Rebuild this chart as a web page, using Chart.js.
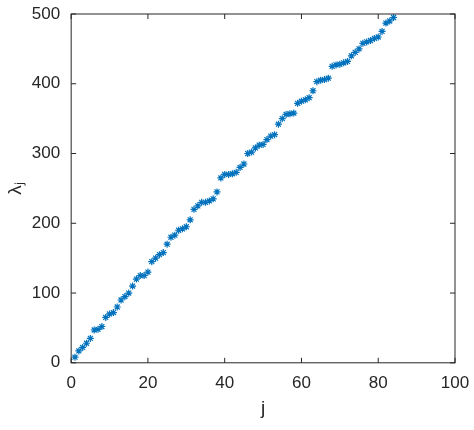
<!DOCTYPE html>
<html>
<head>
<meta charset="utf-8">
<script src="https://cdn.jsdelivr.net/npm/chart.js@4"></script>
<style>
  body { margin: 0; background: #fff; }
  #wrap { width: 474px; height: 430px; }
</style>
</head>
<body>
<div id="wrap"><canvas id="c"></canvas></div>
<script>
const lambdas = [8, 17, 22, 28, 35, 47, 48, 52, 65, 70,
  72, 80, 90, 95, 100, 110, 120, 125, 125, 130,
  145, 150, 155, 158, 170, 180, 183, 190, 192, 195,
  205, 220, 225, 230, 230, 232, 235, 245, 265, 270,
  270, 271, 273, 280, 285, 300, 302, 308, 312, 313,
  320, 325, 327, 342, 350, 356, 357, 358, 372, 375,
  377, 380, 390, 403, 405, 406, 408, 425, 427, 428,
  430, 432, 440, 445, 450, 458, 460, 462, 465, 467,
  475, 487, 490, 495];
const xTicks = [0, 20, 40, 60, 80, 100];
const yTicks = [0, 100, 200, 300, 400, 500];

const points = lambdas.map((v, i) => ({ x: i + 1, y: v }));

// caja y marcas hacia dentro, al estilo MATLAB
const boxPlugin = {
    id: 'box',
    afterDraw(chart) {
        const { ctx, chartArea: a, scales } = chart;
        ctx.save();
        ctx.strokeStyle = '#262626';
        ctx.lineWidth = 1;
        ctx.strokeRect(a.left, a.top, a.right - a.left, a.bottom - a.top);
        ctx.beginPath();
        xTicks.forEach(t => {
            const px = scales.x.getPixelForValue(t);
            ctx.moveTo(px, a.bottom); ctx.lineTo(px, a.bottom - 5);
            ctx.moveTo(px, a.top); ctx.lineTo(px, a.top + 5);
        });
        yTicks.forEach(t => {
            const py = scales.y.getPixelForValue(t);
            ctx.moveTo(a.left, py); ctx.lineTo(a.left + 5, py);
            ctx.moveTo(a.right, py); ctx.lineTo(a.right - 5, py);
        });
        ctx.stroke();
        ctx.restore();
    }
};

const tickFont = { family: 'Liberation Sans Narrow, Liberation Sans', size: 17 };

new Chart(document.getElementById('c'), {
    type: 'scatter',
    data: {
        datasets: [{
            data: points,
            pointStyle: 'star',
            radius: 3.5,
            borderColor: '#0072BD',
            backgroundColor: '#0072BD',
            borderWidth: 1.2
        }]
    },
    options: {
        responsive: true,
        maintainAspectRatio: false,
        animation: false,
        layout: { padding: { top: 14, right: 19, left: 0, bottom: 6 } },
        plugins: { legend: { display: false }, tooltip: { enabled: false } },
        scales: {
            x: {
                min: 0, max: 100,
                afterBuildTicks: s => { s.ticks = xTicks.map(v => ({ value: v })); },
                grid: { display: false },
                border: { display: false },
                ticks: { color: '#262626', font: tickFont, maxRotation: 0, padding: 2 },
                title: { display: true, text: 'j', color: '#262626', font: { family: 'Liberation Sans', size: 19 }, padding: { top: 2 } }
            },
            y: {
                min: 0, max: 500,
                afterBuildTicks: s => { s.ticks = yTicks.map(v => ({ value: v })); },
                grid: { display: false },
                border: { display: false },
                ticks: { color: '#262626', font: tickFont, padding: 3 },
                title: { display: true, text: 'λⱼ', color: '#262626', font: { family: 'Liberation Sans', size: 19 }, padding: { bottom: 2 } }
            }
        }
    },
    plugins: [boxPlugin]
});
</script>
</body>
</html>
